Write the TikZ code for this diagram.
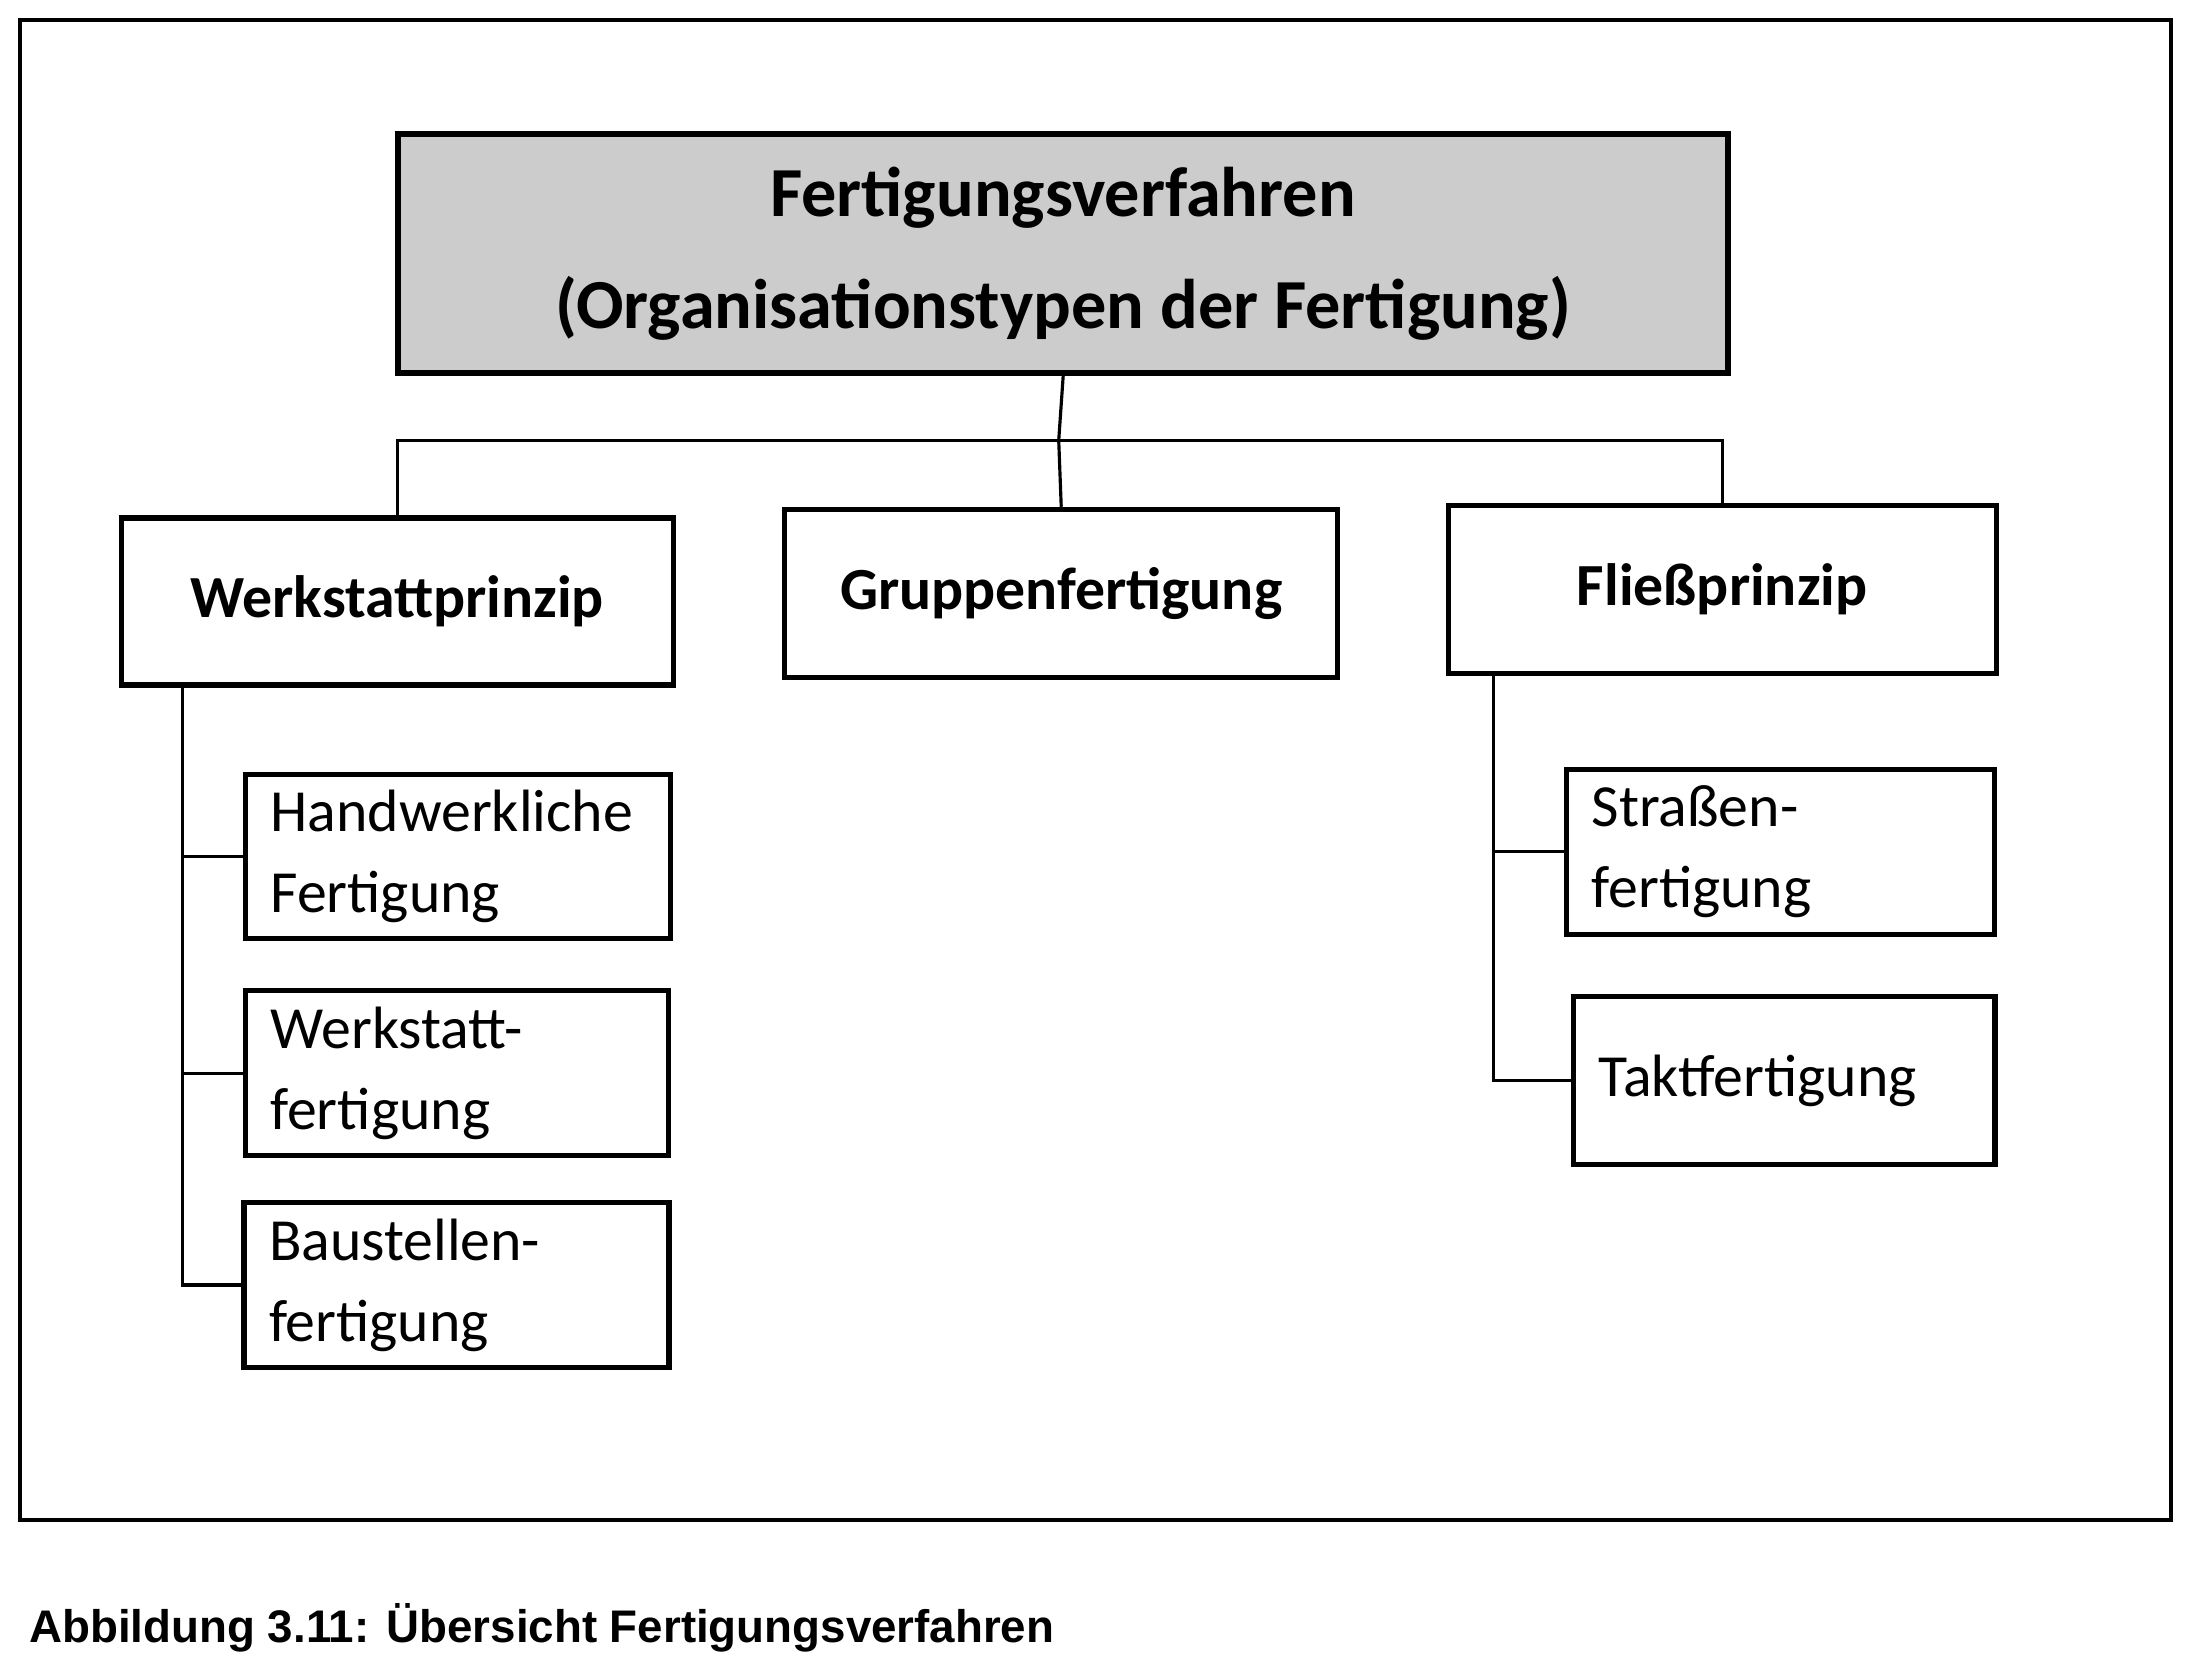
\documentclass[tikz,border=0pt]{standalone}
\usepackage{fontspec}
\setmainfont{Carlito}
\newfontfamily\capfont{Liberation Sans}
\begin{document}
\begin{tikzpicture}[x=0.014116cm,y=-0.014116cm]

% Styles of the boxes
\tikzset{
  topbox/.style={draw,line width=1.6pt,fill=gray!40,anchor=north west,inner sep=0pt,
    align=center,font=\fontsize{20}{32}\selectfont\bfseries},
  mainbox/.style={draw,line width=1.5pt,anchor=north west,inner sep=0pt,
    align=center,font=\fontsize{17}{22}\selectfont\bfseries},
  subbox/.style={draw,line width=1.5pt,anchor=north west,inner sep=0pt,
    inner xsep=0.25cm,text width=3.75cm,align=left,font=\fontsize{17}{23}\selectfont},
  link/.style={line width=0.9pt}
}

\useasboundingbox (0,0) rectangle (1550,1177);
\draw[line width=1.2pt] (14,14) rectangle (1538,1077);

% Top box
\node[topbox,minimum width=13.30cm,minimum height=2.39cm] (top) at (280,93)
  {Fertigungsverfahren\\(Organisationstypen der Fertigung)};

% Main boxes
\node[mainbox,minimum width=5.52cm,minimum height=1.67cm] (werk) at (84,365) {Werkstattprinzip};
\node[mainbox,minimum width=5.53cm,minimum height=1.68cm] (grup) at (554,359) {Gruppenfertigung};
\node[mainbox,minimum width=5.48cm,minimum height=1.68cm] (fliess) at (1024,356) {Fließprinzip};

% Sub boxes
\node[subbox,minimum height=1.64cm] (hand) at (172,547) {Handwerkliche\\Fertigung};
\node[subbox,minimum height=1.65cm,text width=3.73cm] (wfert) at (172,700) {Werkstatt-\\fertigung};
\node[subbox,minimum height=1.65cm,text width=3.75cm] (bau) at (171,850) {Baustellen-\\fertigung};
\node[subbox,minimum height=1.65cm,text width=3.78cm] (stra) at (1108,543) {Straßen-\\fertigung};
\node[subbox,minimum height=1.68cm,text width=3.71cm] (takt) at (1113,704) {Taktfertigung};

% Connectors
\coordinate (bus) at (750,312);
\draw[link] (top.south) -- (bus);
\draw[link] (werk.north) |- (bus) -| (fliess.north);
\draw[link] (bus) -- (grup.north);

\draw[link] (werk.south west) ++(45,0) coordinate (lb) |- (bau.west);
\draw[link] (lb |- hand.west) -- (hand.west);
\draw[link] (lb |- wfert.west) -- (wfert.west);
\draw[link] (fliess.south west) ++(34,0) coordinate (rb) |- (takt.west);
\draw[link] (rb |- stra.west) -- (stra.west);

% Caption
\node[anchor=west,font=\capfont\fontsize{13}{15}\selectfont\bfseries] (cap) at (12,1153)
  {Abbildung 3.11: Übersicht Fertigungsverfahren};

\end{tikzpicture}
\end{document}
